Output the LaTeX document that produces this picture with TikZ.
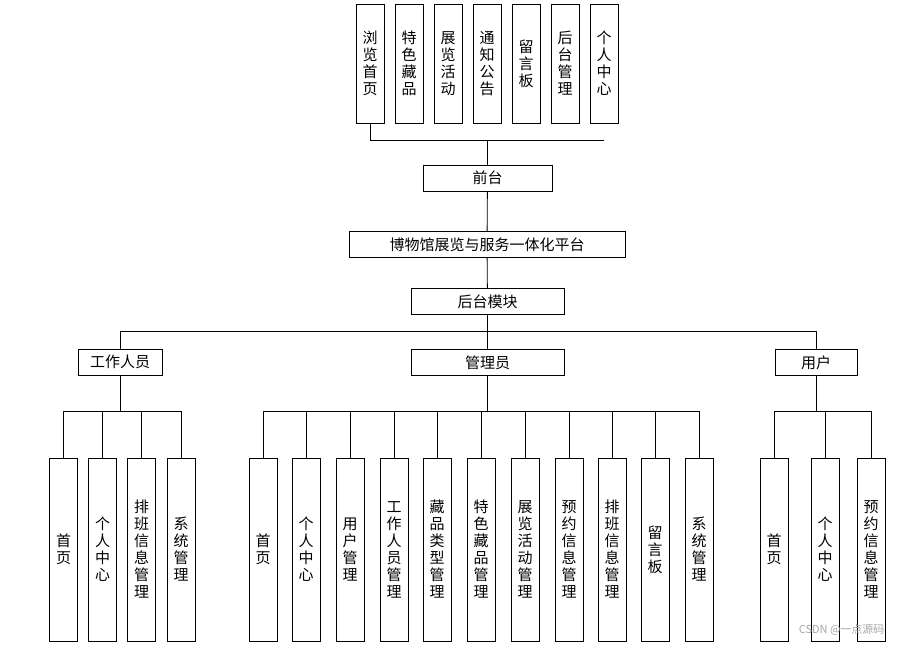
\documentclass[tikz,border=0pt]{standalone}
\usepackage{fontspec}
\setmainfont{Noto Sans CJK SC}
\usetikzlibrary{positioning}

\tikzset{
  box/.style={draw, line width=0.8pt, inner sep=0pt, font=\fontsize{15}{17}\selectfont},
  hbox/.style={box, minimum height=26pt},
  vbox/.style={box, minimum width=28pt, align=center, text width=16pt},
  link/.style={line width=0.8pt}
}

\begin{document}
\begin{tikzpicture}[x=1pt, y=-1pt]
  \useasboundingbox (0,0) rectangle (904,647);

  % top row
  \foreach \n/\x/\t in {t1/370/浏\\览\\首\\页, t2/409/特\\色\\藏\\品, t3/448/展\\览\\活\\动,
      t4/487/通\\知\\公\\告, t5/526/留\\言\\板, t6/565/后\\台\\管\\理, t7/604/个\\人\\中\\心}
    \node[vbox, minimum height=119pt] (\n) at (\x,63.5) {\t};

  \node[hbox, minimum width=129pt] (qt) at (487.5,178) {前台};
  \node[hbox, minimum width=276pt] (pt) at (487,244.5) {博物馆展览与服务一体化平台};
  \node[hbox, minimum width=153pt] (ht) at (487.5,301.5) {后台模块};

  \coordinate (bus0) at (0,140);
  \coordinate (bus1) at (0,331);
  \coordinate (bus2) at (0,411);

  \foreach \n in {t1,...,t7} \draw[link] (\n.south) -- (\n.south |- bus0);
  \draw[link] (t1.south |- bus0) -- (t7.south |- bus0);
  \draw[link] (qt.north |- bus0) -- (qt.north);
  \draw[link] (qt) -- (pt);
  \draw[link] (pt) -- (ht);

  % second level
  \node[hbox, minimum width=84pt] (gz) at (120,362) {工作人员};
  \node[hbox, minimum width=153pt] (gl) at (487.5,362.5) {管理员};
  \node[hbox, minimum width=82pt] (yh) at (816,362.5) {用户};

  \draw[link] (ht) -- (ht.south |- bus1);
  \draw[link] (gz.north |- bus1) -- (yh.north |- bus1);
  \foreach \n in {gz,gl,yh} \draw[link] (\n.north |- bus1) -- (\n.north);

  % leaves
  \foreach \n/\x/\t in {a1/63.5/首\\页, a2/102.5/个\\人\\中\\心, a3/141.5/排\\班\\信\\息\\管\\理, a4/181/系\\统\\管\\理,
      b1/263/首\\页, b2/306/个\\人\\中\\心, b3/350/用\\户\\管\\理, b4/394/工\\作\\人\\员\\管\\理,
      b5/437/藏\\品\\类\\型\\管\\理, b6/481/特\\色\\藏\\品\\管\\理, b7/525/展\\览\\活\\动\\管\\理,
      b8/569/预\\约\\信\\息\\管\\理, b9/612/排\\班\\信\\息\\管\\理, b10/655/留\\言\\板, b11/699/系\\统\\管\\理,
      c1/774/首\\页, c2/825/个\\人\\中\\心, c3/871/预\\约\\信\\息\\管\\理}
    \node[vbox, minimum height=183pt] (\n) at (\x,549.5) {\t};

  \foreach \p/\f/\l/\m in {gz/a1/a4/a, gl/b1/b11/b, yh/c1/c3/c} {
    \draw[link] (\p) -- (\p.south |- bus2);
    \draw[link] (\f.north |- bus2) -- (\l.north |- bus2);
  }
  \foreach \n in {a1,a2,a3,a4,b1,b2,b3,b4,b5,b6,b7,b8,b9,b10,b11,c1,c2,c3}
    \draw[link] (\n.north |- bus2) -- (\n.north);

  \node[text=gray!70, font=\fontsize{11}{13}\selectfont, anchor=east] (wm) at (888,630) {CSDN @一点源码};
\end{tikzpicture}
\end{document}
